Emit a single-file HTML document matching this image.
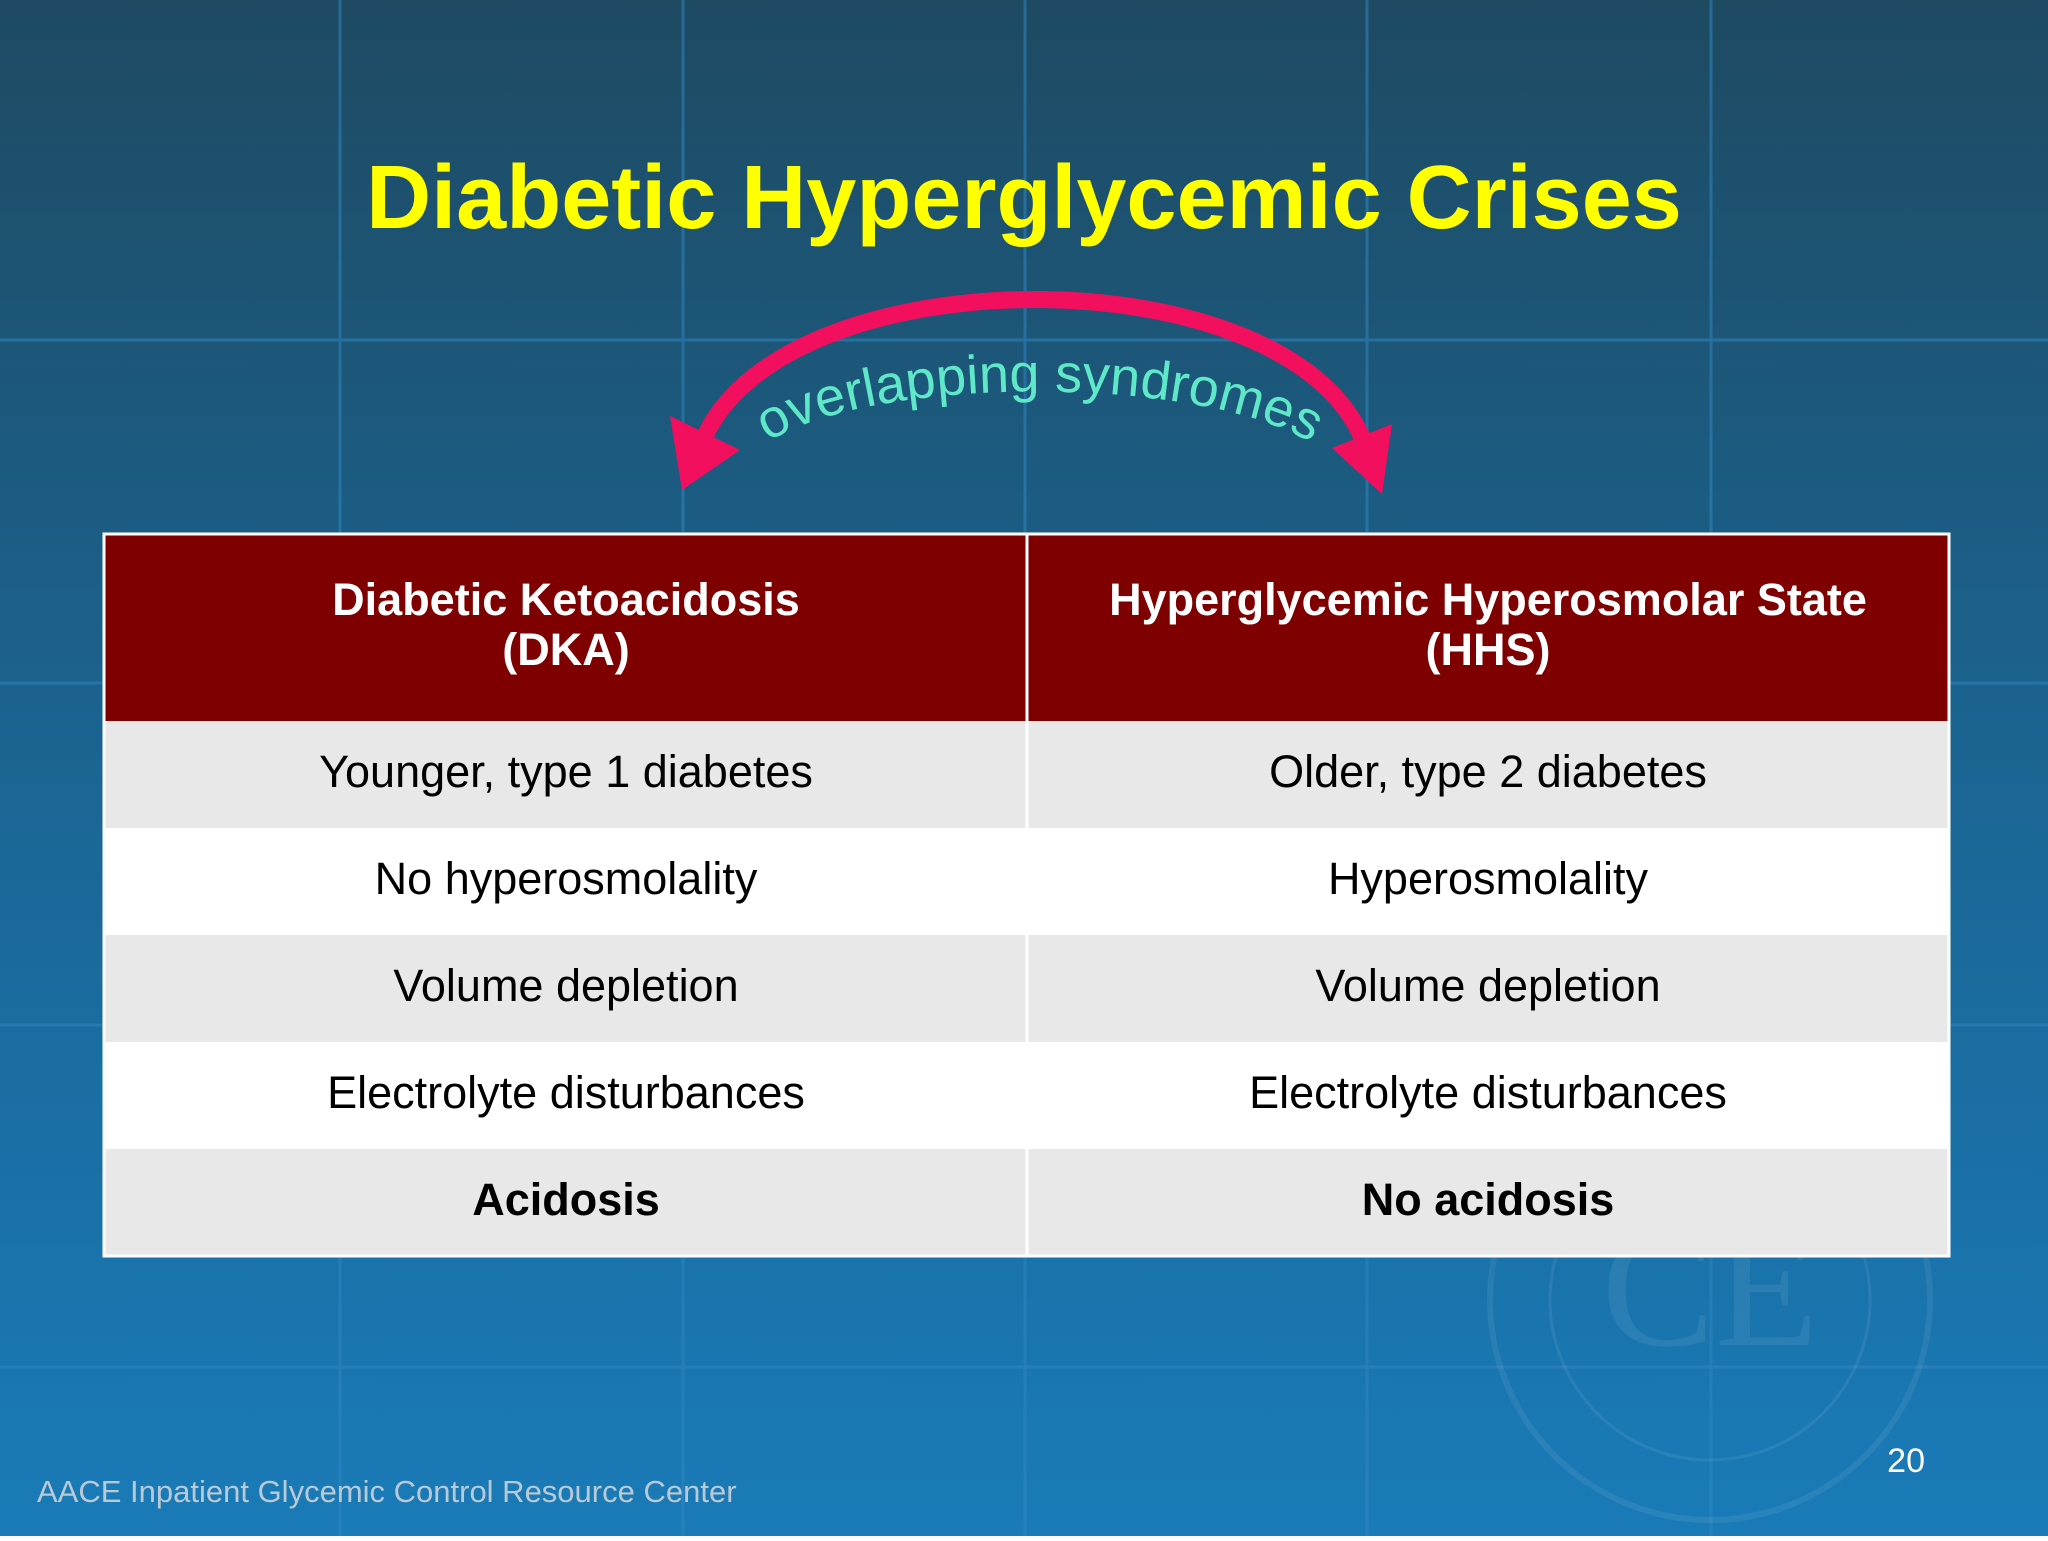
<!DOCTYPE html>
<html>
<head>
<meta charset="utf-8">
<style>
html,body{margin:0;padding:0;}
body{width:2048px;height:1536px;overflow:hidden;font-family:"Liberation Sans",sans-serif;}
</style>
</head>
<body>
<svg width="2048" height="1536" viewBox="0 0 2048 1536" xmlns="http://www.w3.org/2000/svg">
  <defs>
    <linearGradient id="bg" x1="0" y1="0" x2="0" y2="1">
      <stop offset="0" stop-color="#1e4a62"/>
      <stop offset="0.5" stop-color="#1b6593"/>
      <stop offset="1" stop-color="#1a7bb8"/>
    </linearGradient>
  </defs>
  <rect x="0" y="0" width="2048" height="1536" fill="url(#bg)"/>
  <g stroke="#2f86c0" stroke-width="3" opacity="0.55">
    <line x1="340" y1="0" x2="340" y2="1536"/>
    <line x1="683" y1="0" x2="683" y2="1536"/>
    <line x1="1025" y1="0" x2="1025" y2="1536"/>
    <line x1="1367" y1="0" x2="1367" y2="1536"/>
    <line x1="1711" y1="0" x2="1711" y2="1536"/>
    <line x1="0" y1="340" x2="2048" y2="340"/>
    <line x1="0" y1="683" x2="2048" y2="683"/>
    <line x1="0" y1="1025" x2="2048" y2="1025"/>
    <line x1="0" y1="1367" x2="2048" y2="1367"/>
  </g>
  <g opacity="0.07" fill="none" stroke="#ffffff">
    <circle cx="1710" cy="1300" r="220" stroke-width="6"/>
    <circle cx="1710" cy="1300" r="160" stroke-width="3"/>
    <text x="1710" y="1345" text-anchor="middle" font-family="Liberation Serif, serif" font-size="170" fill="#ffffff" stroke="none">CE</text>
  </g>

  <text x="1024" y="228" text-anchor="middle" font-family="Liberation Sans, sans-serif" font-weight="bold" font-size="90" fill="#ffff00">Diabetic Hyperglycemic Crises</text>

  <g>
    <path d="M 700 448 C 770 250, 1300 250, 1366 448" fill="none" stroke="#f2105e" stroke-width="17"/>
    <polygon points="670,416 740,450 682,490" fill="#f2105e"/>
    <polygon points="1332,448 1392,424 1382,494" fill="#f2105e"/>
    <path id="txtpath" d="M 745 462 C 820 368, 1250 368, 1335 462" fill="none"/>
    <text font-family="Liberation Sans, sans-serif" font-size="54" fill="#5fe8c8">
      <textPath href="#txtpath" startOffset="50%" text-anchor="middle">overlapping syndromes</textPath>
    </text>
  </g>

  <g font-family="Liberation Sans, sans-serif" font-size="45" text-anchor="middle">
    <rect x="104" y="534" width="1845" height="187" fill="#7f0000"/>
    <rect x="104" y="721" width="1845" height="107" fill="#e8e8e8"/>
    <rect x="104" y="828" width="1845" height="107" fill="#ffffff"/>
    <rect x="104" y="935" width="1845" height="107" fill="#e8e8e8"/>
    <rect x="104" y="1042" width="1845" height="107" fill="#ffffff"/>
    <rect x="104" y="1149" width="1845" height="107" fill="#e8e8e8"/>
    <rect x="104" y="534" width="1845" height="722" fill="none" stroke="#ffffff" stroke-width="3"/>
    <line x1="1027" y1="534" x2="1027" y2="1256" stroke="#ffffff" stroke-width="3"/>
    <g fill="#ffffff" font-weight="bold">
      <text x="566" y="615">Diabetic Ketoacidosis</text>
      <text x="566" y="665">(DKA)</text>
      <text x="1488" y="615">Hyperglycemic Hyperosmolar State</text>
      <text x="1488" y="665">(HHS)</text>
    </g>
    <g fill="#000000">
      <text x="566" y="787">Younger, type 1 diabetes</text>
      <text x="1488" y="787">Older, type 2 diabetes</text>
      <text x="566" y="894">No hyperosmolality</text>
      <text x="1488" y="894">Hyperosmolality</text>
      <text x="566" y="1001">Volume depletion</text>
      <text x="1488" y="1001">Volume depletion</text>
      <text x="566" y="1108">Electrolyte disturbances</text>
      <text x="1488" y="1108">Electrolyte disturbances</text>
      <text x="566" y="1215" font-weight="bold">Acidosis</text>
      <text x="1488" y="1215" font-weight="bold">No acidosis</text>
    </g>
  </g>

  <text x="37" y="1502" font-family="Liberation Sans, sans-serif" font-size="31" fill="#b9c9d6">AACE Inpatient Glycemic Control Resource Center</text>
  <text x="1925" y="1472" text-anchor="end" font-family="Liberation Sans, sans-serif" font-size="34" fill="#ffffff">20</text>
</svg>
</body>
</html>
